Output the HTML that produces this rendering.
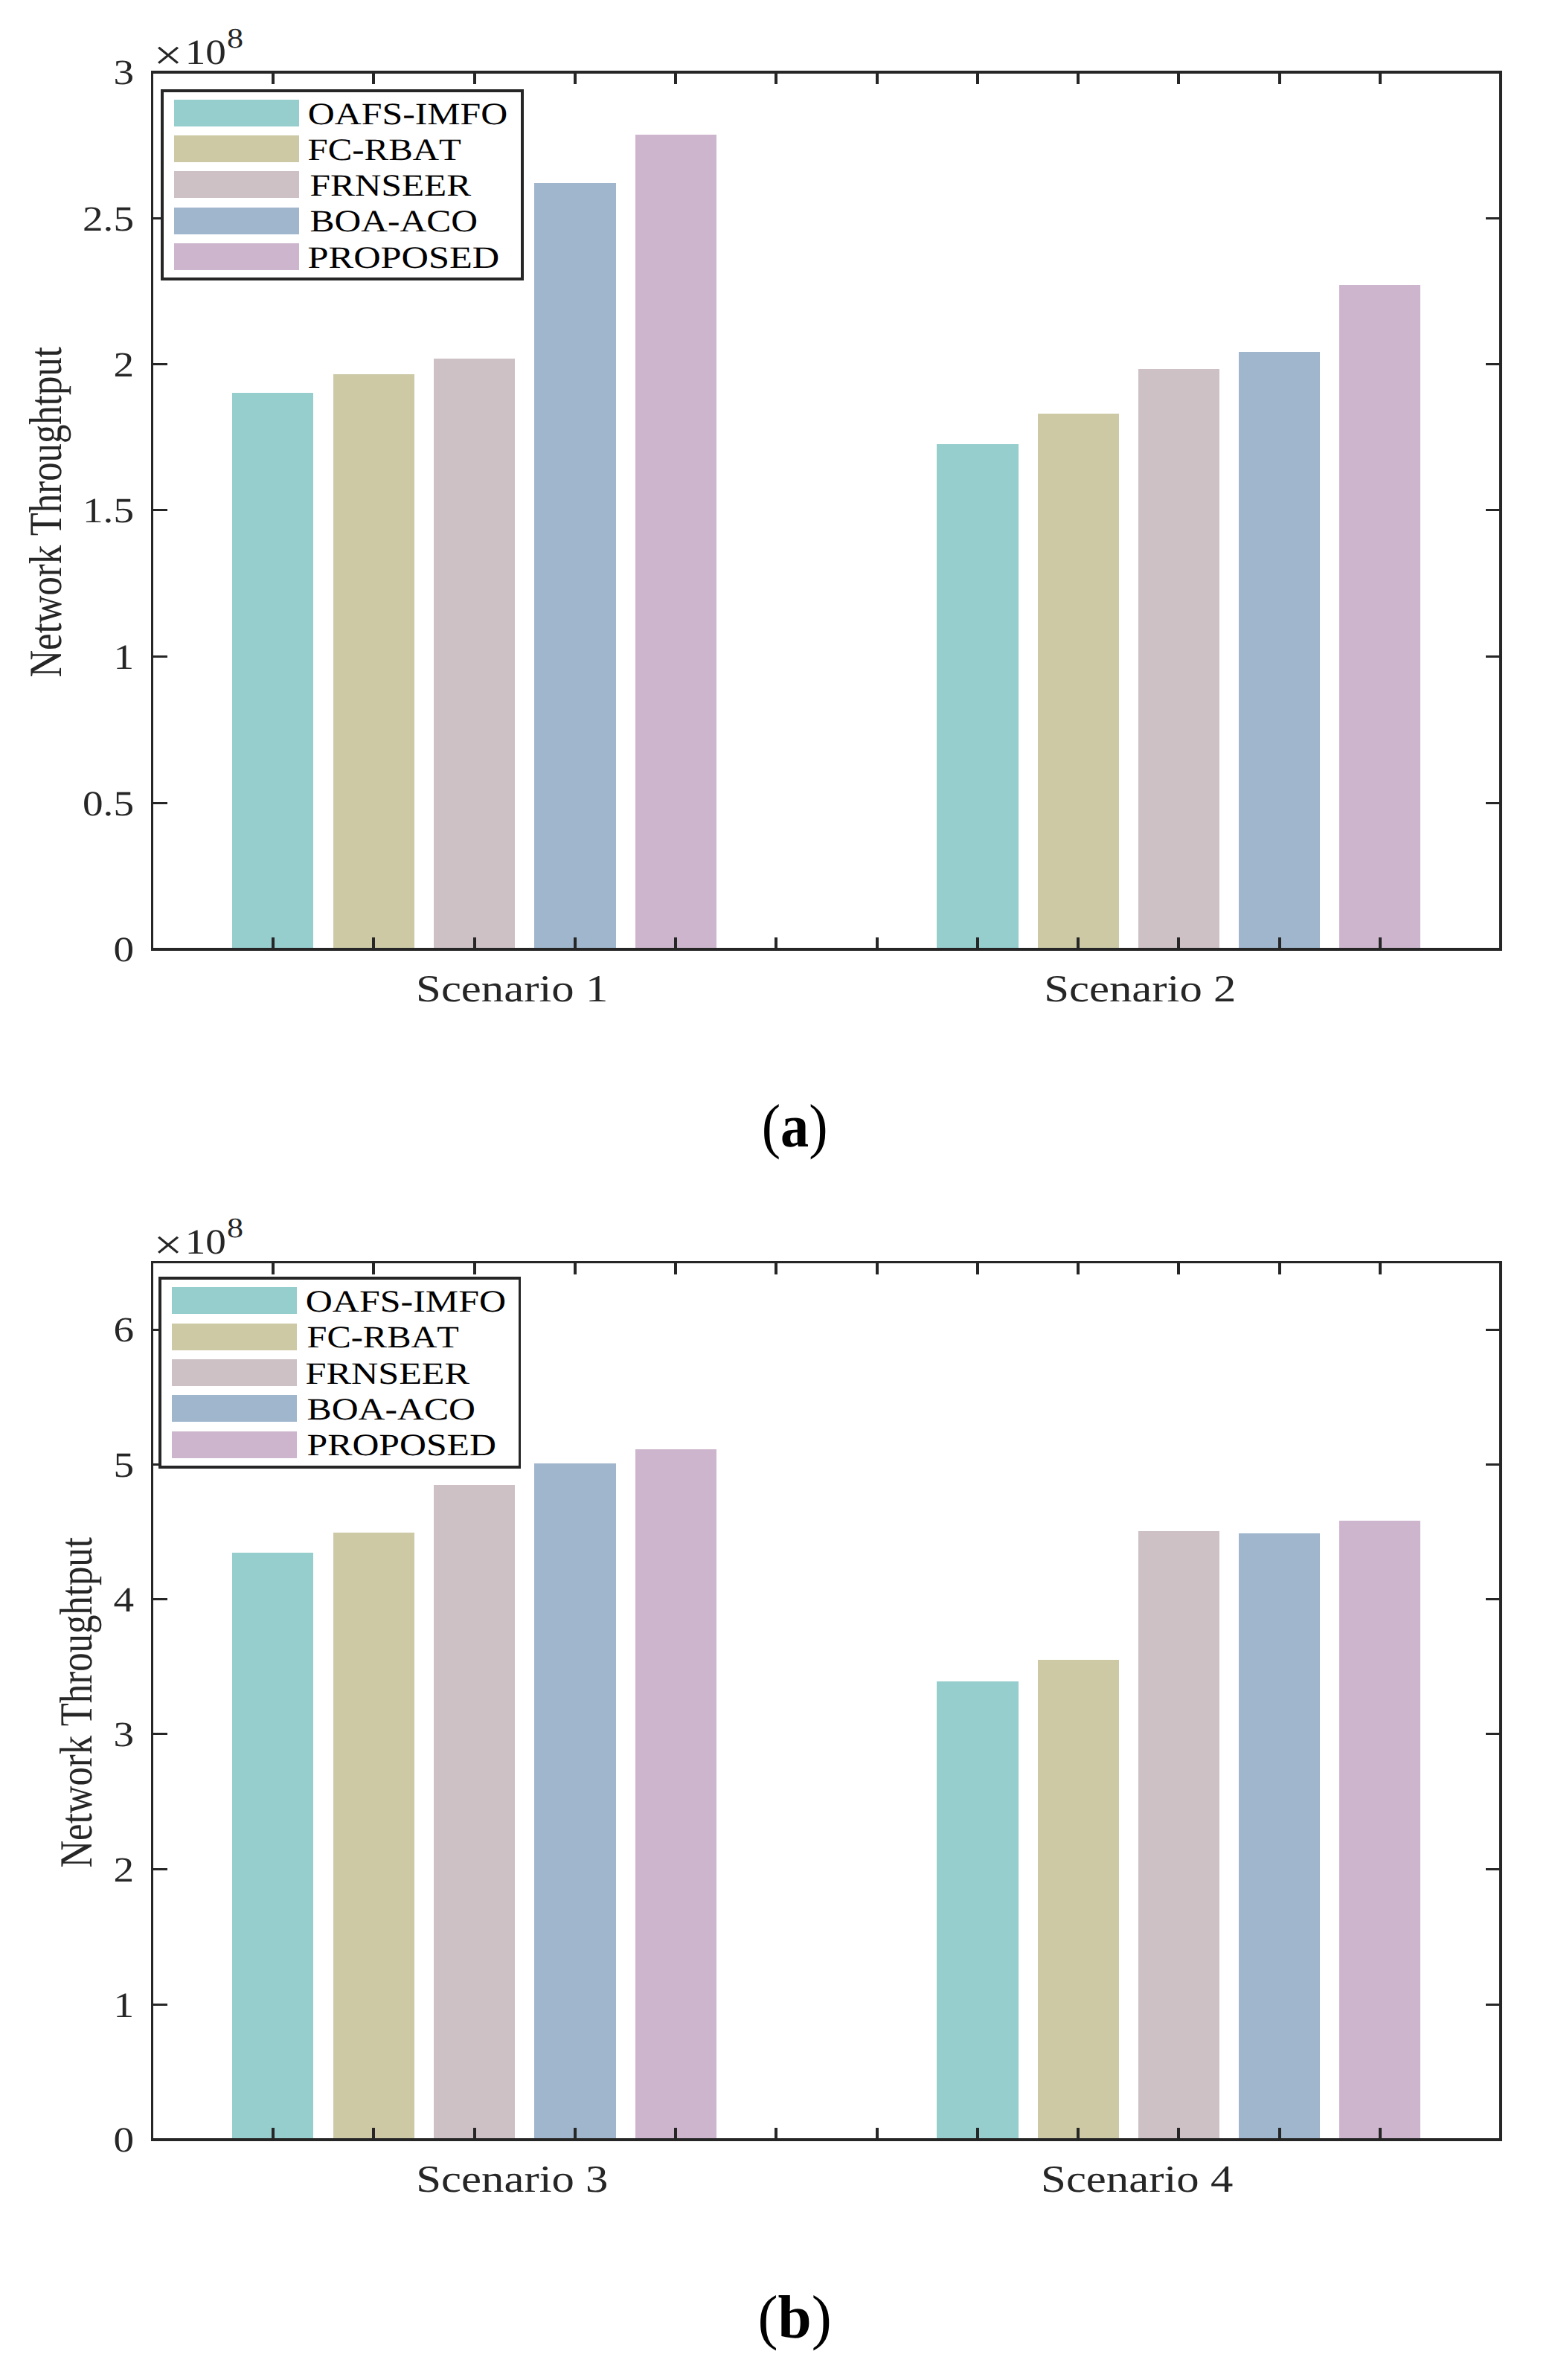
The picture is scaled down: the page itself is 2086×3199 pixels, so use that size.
<!DOCTYPE html>
<html lang="en">
<head>
<meta charset="utf-8">
<title>Network Throughtput</title>
<style>
html,body{margin:0;padding:0;background:#fff;}
body{width:2086px;height:3199px;overflow:hidden;}
svg{display:block;font-family:"Liberation Serif","Times New Roman",serif;font-kerning:none;}
</style>
</head>
<body>
<svg width="2086" height="3199" viewBox="0 0 2086 3199" shape-rendering="crispEdges" text-rendering="geometricPrecision">
<rect x="0" y="0" width="2086" height="3199" fill="#fff"/>
<g id="plot-a">
<rect x="312" y="528" width="109" height="747" fill="#96CDCD"/>
<rect x="448" y="502.8" width="109" height="772.2" fill="#CDC9A5"/>
<rect x="583" y="482" width="109" height="793" fill="#CDC1C5"/>
<rect x="718" y="245.7" width="110" height="1029.3" fill="#9FB6CD"/>
<rect x="854" y="180.7" width="109" height="1094.3" fill="#CDB5CD"/>
<rect x="1259" y="596.7" width="110" height="678.3" fill="#96CDCD"/>
<rect x="1395" y="555.5" width="109" height="719.5" fill="#CDC9A5"/>
<rect x="1530" y="495.7" width="109" height="779.3" fill="#CDC1C5"/>
<rect x="1665" y="472.5" width="109" height="802.5" fill="#9FB6CD"/>
<rect x="1800" y="382.8" width="109" height="892.2" fill="#CDB5CD"/>
<rect x="203" y="95" width="3" height="1183" fill="#262626"/>
<rect x="2015" y="95" width="4" height="1183" fill="#262626"/>
<rect x="203" y="95" width="1816" height="4" fill="#262626"/>
<rect x="203" y="1274" width="1816" height="4" fill="#262626"/>
<rect x="365" y="97" width="4" height="16" fill="#262626"/>
<rect x="365" y="1260" width="4" height="16" fill="#262626"/>
<rect x="500" y="97" width="4" height="16" fill="#262626"/>
<rect x="500" y="1260" width="4" height="16" fill="#262626"/>
<rect x="636" y="97" width="4" height="16" fill="#262626"/>
<rect x="636" y="1260" width="4" height="16" fill="#262626"/>
<rect x="771" y="97" width="4" height="16" fill="#262626"/>
<rect x="771" y="1260" width="4" height="16" fill="#262626"/>
<rect x="906" y="97" width="4" height="16" fill="#262626"/>
<rect x="906" y="1260" width="4" height="16" fill="#262626"/>
<rect x="1041" y="97" width="4" height="16" fill="#262626"/>
<rect x="1041" y="1260" width="4" height="16" fill="#262626"/>
<rect x="1177" y="97" width="4" height="16" fill="#262626"/>
<rect x="1177" y="1260" width="4" height="16" fill="#262626"/>
<rect x="1312" y="97" width="4" height="16" fill="#262626"/>
<rect x="1312" y="1260" width="4" height="16" fill="#262626"/>
<rect x="1447" y="97" width="4" height="16" fill="#262626"/>
<rect x="1447" y="1260" width="4" height="16" fill="#262626"/>
<rect x="1582" y="97" width="4" height="16" fill="#262626"/>
<rect x="1582" y="1260" width="4" height="16" fill="#262626"/>
<rect x="1718" y="97" width="4" height="16" fill="#262626"/>
<rect x="1718" y="1260" width="4" height="16" fill="#262626"/>
<rect x="1853" y="97" width="4" height="16" fill="#262626"/>
<rect x="1853" y="1260" width="4" height="16" fill="#262626"/>
<text transform="translate(180 113.4) scale(1.16 1)" font-size="47.6" text-anchor="end" fill="#262626">3</text>
<rect x="204" y="292" width="21" height="3" fill="#262626"/>
<rect x="1997" y="292" width="20" height="3" fill="#262626"/>
<text transform="translate(180 309.8) scale(1.16 1)" font-size="47.6" text-anchor="end" fill="#262626">2.5</text>
<rect x="204" y="488" width="21" height="3" fill="#262626"/>
<rect x="1997" y="488" width="20" height="3" fill="#262626"/>
<text transform="translate(180 506.05) scale(1.16 1)" font-size="47.6" text-anchor="end" fill="#262626">2</text>
<rect x="204" y="684" width="21" height="3" fill="#262626"/>
<rect x="1997" y="684" width="20" height="3" fill="#262626"/>
<text transform="translate(180 702.2) scale(1.16 1)" font-size="47.6" text-anchor="end" fill="#262626">1.5</text>
<rect x="204" y="881" width="21" height="3" fill="#262626"/>
<rect x="1997" y="881" width="20" height="3" fill="#262626"/>
<text transform="translate(180 899.3) scale(1.16 1)" font-size="47.6" text-anchor="end" fill="#262626">1</text>
<rect x="204" y="1078" width="21" height="3" fill="#262626"/>
<rect x="1997" y="1078" width="20" height="3" fill="#262626"/>
<text transform="translate(180 1095.7) scale(1.16 1)" font-size="47.6" text-anchor="end" fill="#262626">0.5</text>
<text transform="translate(180 1292.4) scale(1.16 1)" font-size="47.6" text-anchor="end" fill="#262626">0</text>
<text transform="translate(206.4 93.2) scale(1.226 1)" font-size="56.5" text-anchor="start" fill="#262626">×</text>
<text transform="translate(248.7 85.9) scale(1.16 1)" font-size="47.6" text-anchor="start" fill="#262626">10</text>
<text transform="translate(305 63.9) scale(1.162 1)" font-size="38" text-anchor="start" fill="#262626">8</text>
<text transform="translate(688.2 1345.7) scale(1.18 1)" font-size="51.5" text-anchor="middle" fill="#262626">Scenario 1</text>
<text transform="translate(1532.3 1345.7) scale(1.18 1)" font-size="51.5" text-anchor="middle" fill="#262626">Scenario 2</text>
<text transform="translate(82 688.4) scale(1.22 1) rotate(-90)" font-size="50.8" text-anchor="middle" fill="#262626">Network Throughtput</text>
<rect x="216" y="120" width="488" height="257" fill="#fff"/>
<rect x="216" y="120" width="4" height="257" fill="#262626"/>
<rect x="700" y="120" width="4" height="257" fill="#262626"/>
<rect x="216" y="120" width="488" height="4" fill="#262626"/>
<rect x="216" y="373" width="488" height="4" fill="#262626"/>
<rect x="234" y="134" width="168" height="36" fill="#96CDCD"/>
<text transform="translate(413.76 167.15) scale(1.1919 1)" font-size="41.8" text-anchor="start" fill="#000">OAFS-IMFO</text>
<rect x="234" y="182" width="168" height="36" fill="#CDC9A5"/>
<text transform="translate(413.59 215.3) scale(1.1687 1)" font-size="41.8" text-anchor="start" fill="#000">FC-RBAT</text>
<rect x="234" y="230" width="168" height="36" fill="#CDC1C5"/>
<text transform="translate(416.48 263.3) scale(1.1803 1)" font-size="41.8" text-anchor="start" fill="#000">FRNSEER</text>
<rect x="234" y="279" width="168" height="36" fill="#9FB6CD"/>
<text transform="translate(416.47 311.2) scale(1.1839 1)" font-size="41.8" text-anchor="start" fill="#000">BOA-ACO</text>
<rect x="234" y="327" width="168" height="36" fill="#CDB5CD"/>
<text transform="translate(413.55 360) scale(1.2056 1)" font-size="41.8" text-anchor="start" fill="#000">PROPOSED</text>
</g>
<g id="plot-b">
<rect x="312" y="2086.7" width="109" height="788.3" fill="#96CDCD"/>
<rect x="448" y="2059.7" width="109" height="815.3" fill="#CDC9A5"/>
<rect x="583" y="1995.6" width="109" height="879.4" fill="#CDC1C5"/>
<rect x="718" y="1966.8" width="110" height="908.2" fill="#9FB6CD"/>
<rect x="854" y="1947.8" width="109" height="927.2" fill="#CDB5CD"/>
<rect x="1259" y="2259.8" width="110" height="615.2" fill="#96CDCD"/>
<rect x="1395" y="2230.9" width="109" height="644.1" fill="#CDC9A5"/>
<rect x="1530" y="2057.7" width="109" height="817.3" fill="#CDC1C5"/>
<rect x="1665" y="2060.8" width="109" height="814.2" fill="#9FB6CD"/>
<rect x="1800" y="2043.8" width="109" height="831.2" fill="#CDB5CD"/>
<rect x="203" y="1695" width="3" height="1183" fill="#262626"/>
<rect x="2015" y="1695" width="4" height="1183" fill="#262626"/>
<rect x="203" y="1695" width="1816" height="3" fill="#262626"/>
<rect x="203" y="2874" width="1816" height="4" fill="#262626"/>
<rect x="365" y="1696.5" width="4" height="16" fill="#262626"/>
<rect x="365" y="2860" width="4" height="16" fill="#262626"/>
<rect x="500" y="1696.5" width="4" height="16" fill="#262626"/>
<rect x="500" y="2860" width="4" height="16" fill="#262626"/>
<rect x="636" y="1696.5" width="4" height="16" fill="#262626"/>
<rect x="636" y="2860" width="4" height="16" fill="#262626"/>
<rect x="771" y="1696.5" width="4" height="16" fill="#262626"/>
<rect x="771" y="2860" width="4" height="16" fill="#262626"/>
<rect x="906" y="1696.5" width="4" height="16" fill="#262626"/>
<rect x="906" y="2860" width="4" height="16" fill="#262626"/>
<rect x="1041" y="1696.5" width="4" height="16" fill="#262626"/>
<rect x="1041" y="2860" width="4" height="16" fill="#262626"/>
<rect x="1177" y="1696.5" width="4" height="16" fill="#262626"/>
<rect x="1177" y="2860" width="4" height="16" fill="#262626"/>
<rect x="1312" y="1696.5" width="4" height="16" fill="#262626"/>
<rect x="1312" y="2860" width="4" height="16" fill="#262626"/>
<rect x="1447" y="1696.5" width="4" height="16" fill="#262626"/>
<rect x="1447" y="2860" width="4" height="16" fill="#262626"/>
<rect x="1582" y="1696.5" width="4" height="16" fill="#262626"/>
<rect x="1582" y="2860" width="4" height="16" fill="#262626"/>
<rect x="1718" y="1696.5" width="4" height="16" fill="#262626"/>
<rect x="1718" y="2860" width="4" height="16" fill="#262626"/>
<rect x="1853" y="1696.5" width="4" height="16" fill="#262626"/>
<rect x="1853" y="2860" width="4" height="16" fill="#262626"/>
<rect x="204" y="1786" width="21" height="3" fill="#262626"/>
<rect x="1997" y="1786" width="20" height="3" fill="#262626"/>
<text transform="translate(180 1803.4) scale(1.16 1)" font-size="47.6" text-anchor="end" fill="#262626">6</text>
<rect x="204" y="1967" width="21" height="3" fill="#262626"/>
<rect x="1997" y="1967" width="20" height="3" fill="#262626"/>
<text transform="translate(180 1984.9) scale(1.16 1)" font-size="47.6" text-anchor="end" fill="#262626">5</text>
<rect x="204" y="2148" width="21" height="3" fill="#262626"/>
<rect x="1997" y="2148" width="20" height="3" fill="#262626"/>
<text transform="translate(180 2165.9) scale(1.16 1)" font-size="47.6" text-anchor="end" fill="#262626">4</text>
<rect x="204" y="2329" width="21" height="3" fill="#262626"/>
<rect x="1997" y="2329" width="20" height="3" fill="#262626"/>
<text transform="translate(180 2347.1) scale(1.16 1)" font-size="47.6" text-anchor="end" fill="#262626">3</text>
<rect x="204" y="2511" width="21" height="3" fill="#262626"/>
<rect x="1997" y="2511" width="20" height="3" fill="#262626"/>
<text transform="translate(180 2528.8) scale(1.16 1)" font-size="47.6" text-anchor="end" fill="#262626">2</text>
<rect x="204" y="2693" width="21" height="3" fill="#262626"/>
<rect x="1997" y="2693" width="20" height="3" fill="#262626"/>
<text transform="translate(180 2710.5) scale(1.16 1)" font-size="47.6" text-anchor="end" fill="#262626">1</text>
<text transform="translate(180 2892.4) scale(1.16 1)" font-size="47.6" text-anchor="end" fill="#262626">0</text>
<text transform="translate(206.4 1692.1) scale(1.226 1)" font-size="56.5" text-anchor="start" fill="#262626">×</text>
<text transform="translate(248.7 1684.8) scale(1.16 1)" font-size="47.6" text-anchor="start" fill="#262626">10</text>
<text transform="translate(305 1662.8) scale(1.162 1)" font-size="38" text-anchor="start" fill="#262626">8</text>
<text transform="translate(688.4 2945.7) scale(1.18 1)" font-size="51.5" text-anchor="middle" fill="#262626">Scenario 3</text>
<text transform="translate(1528.2 2945.7) scale(1.18 1)" font-size="51.5" text-anchor="middle" fill="#262626">Scenario 4</text>
<text transform="translate(123 2288.4) scale(1.22 1) rotate(-90)" font-size="50.8" text-anchor="middle" fill="#262626">Network Throughtput</text>
<rect x="213" y="1716" width="487" height="258" fill="#fff"/>
<rect x="213" y="1716" width="4" height="258" fill="#262626"/>
<rect x="697" y="1716" width="3" height="258" fill="#262626"/>
<rect x="213" y="1716" width="487" height="4" fill="#262626"/>
<rect x="213" y="1970" width="487" height="4" fill="#262626"/>
<rect x="231" y="1730" width="168" height="36" fill="#96CDCD"/>
<text transform="translate(410.75 1763.3) scale(1.1954 1)" font-size="41.8" text-anchor="start" fill="#000">OAFS-IMFO</text>
<rect x="231" y="1779" width="168" height="36" fill="#CDC9A5"/>
<text transform="translate(412.61 1811.3) scale(1.1571 1)" font-size="41.8" text-anchor="start" fill="#000">FC-RBAT</text>
<rect x="231" y="1827" width="168" height="36" fill="#CDC1C5"/>
<text transform="translate(410.45 1860.1) scale(1.2023 1)" font-size="41.8" text-anchor="start" fill="#000">FRNSEER</text>
<rect x="231" y="1875" width="168" height="36" fill="#9FB6CD"/>
<text transform="translate(412.57 1908.1) scale(1.1892 1)" font-size="41.8" text-anchor="start" fill="#000">BOA-ACO</text>
<rect x="231" y="1924" width="168" height="36" fill="#CDB5CD"/>
<text transform="translate(412.57 1956.25) scale(1.19 1)" font-size="41.8" text-anchor="start" fill="#000">PROPOSED</text>
</g>
<g id="captions">
<text transform="translate(1068.1 1541.4) scale(0.93 1)" font-size="82" text-anchor="middle" fill="#000">(<tspan font-weight="bold">a</tspan>)</text>
<text transform="translate(1068.1 3141.5) scale(0.99 1)" font-size="82" text-anchor="middle" fill="#000">(<tspan font-weight="bold">b</tspan>)</text>
</g>
</svg>
</body>
</html>
